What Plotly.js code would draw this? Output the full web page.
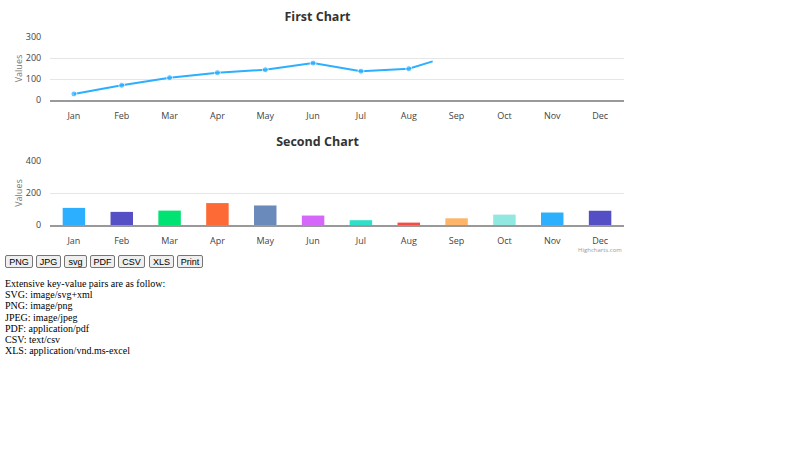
<!DOCTYPE html>
<html>
<head>
<meta charset="utf-8">
<script src="https://cdn.plot.ly/plotly-3.0.1.min.js"></script>
<style>
  body { margin: 0; background: #fff; width: 800px; height: 450px; overflow: hidden; position: relative; }
  #c1 { position: absolute; left: 0; top: 0; width: 635px; height: 125px; }
  #c2 { position: absolute; left: 0; top: 125px; width: 635px; height: 130px; }
  #btns { position: absolute; left: 5px; top: 255px; font-size: 0; }
  #btns button { font: 9px Arial, "Liberation Sans", sans-serif; height: 13px; padding: 0; margin: 0 3px 0 0;
    border: 1px solid #767676; border-radius: 2px; background: #efefef; color: #000; vertical-align: top; }
  #info { position: absolute; left: 5px; top: 278px; font-family: "Liberation Serif", "Times New Roman", serif;
    font-size: 10px; line-height: 11.2px; color: #000; }
</style>
</head>
<body>
<div id="c1"></div>
<div id="c2"></div>
<div id="btns">
  <button style="width:28px">PNG</button><button style="width:25px">JPG</button><button style="width:23px">svg</button><button style="width:25px">PDF</button><button style="width:27px;margin-right:4px">CSV</button><button style="width:25px">XLS</button><button style="width:26px">Print</button>
</div>
<div id="info">
Extensive key-value pairs are as follow:<br>
SVG: image/svg+xml<br>
PNG: image/png<br>
JPEG: image/jpeg<br>
PDF: application/pdf<br>
CSV: text/csv<br>
XLS: application/vnd.ms-excel
</div>
<script>
const months = ["Jan","Feb","Mar","Apr","May","Jun","Jul","Aug","Sep","Oct","Nov","Dec"];
const lineValues = [29, 70, 106, 130, 144, 176, 137, 149];
// line was still being drawn from Aug toward Sep when captured: partial end point
const lineTailX = 7.5;
const lineTailY = 184;
const barValues = [107, 82, 90, 137, 122, 59, 30, 15, 42, 65, 78, 89];
const palette = ["#2caffe","#544fc5","#00e272","#fe6a35","#6b8abc","#d568fb","#2ee0ca","#fa4b42","#feb56a","#91e8e1"];

const FONT = '"Open Sans", "Noto Sans", sans-serif';
const idx = months.map((m, i) => i);

function baseLayout(title, range, dtick, top, bottom, h) {
  return {
    width: 635, height: h,
    margin: {l: 50, r: 11, t: top, b: bottom},
    paper_bgcolor: '#fff', plot_bgcolor: '#fff',
    showlegend: false,
    font: {family: FONT, size: 9, color: '#333'},
    title: {text: '<b>' + title + '</b>', x: 0.5, xanchor: 'center', y: 1, yanchor: 'top', yref: 'container',
      pad: {t: 12}, font: {family: FONT, size: 12.5, color: '#333'}},
    xaxis: {
      range: [-0.5, 11.5], tickvals: idx, ticktext: months, showgrid: false, zeroline: false,
      showline: true, linecolor: '#999', linewidth: 1.5, ticks: 'outside', ticklen: 7, tickcolor: 'rgba(0,0,0,0)',
      tickfont: {family: FONT, size: 9, color: '#444'}, fixedrange: true
    },
    yaxis: {
      range: range, dtick: dtick, showgrid: true, gridcolor: '#e6e6e6', gridwidth: 1, zeroline: false,
      showline: false, ticks: 'outside', ticklen: 6, tickcolor: 'rgba(0,0,0,0)',
      tickfont: {family: FONT, size: 9, color: '#444'},
      title: {text: 'Values', standoff: 1, font: {family: FONT, size: 9, color: '#777'}}, fixedrange: true
    }
  };
}

const lineX = idx.slice(0, lineValues.length).concat([lineTailX]);
const lineY = lineValues.concat([lineTailY]);
const markerSizes = lineValues.map(() => 6).concat([0]);

Plotly.newPlot('c1', [{
  type: 'scatter', mode: 'lines+markers', x: lineX, y: lineY,
  line: {color: '#2caffe', width: 2},
  marker: {color: '#2caffe', size: markerSizes},
  hoverinfo: 'skip'
}], baseLayout('First Chart', [0, 300], 100, 37, 25, 125), {displayModeBar: false, staticPlot: true});

const l2 = baseLayout('Second Chart', [0, 400], 200, 36, 30, 130);
l2.annotations = [{
  text: 'Highcharts.com', xref: 'paper', yref: 'paper', x: 1, y: 0, xanchor: 'right', yanchor: 'top',
  yshift: -19, showarrow: false, font: {family: FONT, size: 6, color: '#999'}
}];
Plotly.newPlot('c2', [{
  type: 'bar', x: idx, y: barValues, width: 0.47,
  marker: {color: barValues.map((v, i) => palette[i % palette.length]), line: {width: 0}},
  hoverinfo: 'skip'
}], l2, {displayModeBar: false, staticPlot: true});
</script>
</body>
</html>
